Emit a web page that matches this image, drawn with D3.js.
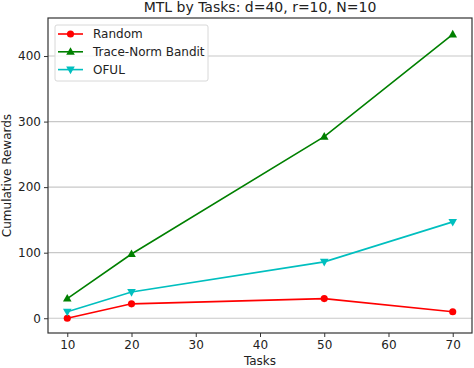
<!DOCTYPE html>
<html><head><meta charset="utf-8">
<script src="https://cdn.jsdelivr.net/npm/d3@7"></script>
<style>body{margin:0;background:#fff}svg{display:block}text{font-family:"DejaVu Sans",sans-serif;fill:#222}</style>
</head><body>
<script>
const tasks = [10, 20, 50, 70];
const randomVals = [0, 22, 30, 10];
const traceNormVals = [30, 98, 277, 433];
const ofulVals = [10, 40, 86, 147];
const xTicks = [10, 20, 30, 40, 50, 60, 70];
const yTicks = [0, 100, 200, 300, 400];
const seriesNames = ["Random", "Trace-Norm Bandit", "OFUL"];
const titleText = "MTL by Tasks: d=40, r=10, N=10";

const W = 474, H = 368;
const m = {l: 48, r: 2, t: 18, b: 35};
const svg = d3.select("body").append("svg").attr("width", W).attr("height", H);
const x = d3.scaleLinear().domain([7, 73]).range([m.l, W - m.r]);
const y = d3.scaleLinear().domain([-22.5, 458]).range([H - m.b, m.t]);

// grid
svg.append("g").selectAll("line").data(yTicks).join("line")
  .attr("x1", m.l).attr("x2", W - m.r).attr("y1", d => y(d)).attr("y2", d => y(d))
  .attr("stroke", "#c8c8c8").attr("stroke-width", 1.2);

const series = [
  {name: seriesNames[0], vals: randomVals, color: "#ff0000", marker: "circle"},
  {name: seriesNames[1], vals: traceNormVals, color: "#008000", marker: "up"},
  {name: seriesNames[2], vals: ofulVals, color: "#00bfbf", marker: "down"}
];
function markerPath(type) {
  if (type === "circle") return d3.symbol(d3.symbolCircle, 40)();
  if (type === "up") return "M0,-4.6L4.3,3L-4.3,3Z";
  return "M0,4.6L4.3,-3L-4.3,-3Z";
}
const line = d3.line().x(d => x(d[0])).y(d => y(d[1]));
series.forEach(s => {
  const pts = tasks.map((t, i) => [t, s.vals[i]]);
  svg.append("path").attr("d", line(pts)).attr("fill", "none")
    .attr("stroke", s.color).attr("stroke-width", 1.6);
  svg.append("g").selectAll("path").data(pts).join("path")
    .attr("transform", d => `translate(${x(d[0])},${y(d[1])})`)
    .attr("d", markerPath(s.marker)).attr("fill", s.color);
});

// frame
svg.append("rect").attr("x", m.l).attr("y", m.t).attr("width", W - m.r - m.l).attr("height", H - m.b - m.t)
  .attr("fill", "none").attr("stroke", "#333").attr("stroke-width", 1.2);

// axes
const xa = svg.append("g").attr("transform", `translate(0,${H - m.b})`)
  .call(d3.axisBottom(x).tickValues(xTicks).tickSize(4).tickPadding(3));
const ya = svg.append("g").attr("transform", `translate(${m.l},0)`)
  .call(d3.axisLeft(y).tickValues(yTicks).tickSize(4).tickPadding(3));
[xa, ya].forEach(a => {
  a.select(".domain").remove();
  a.selectAll("line").attr("stroke", "#333");
  a.selectAll("text").style("font-size", "12px").style("font-family", "DejaVu Sans, sans-serif").attr("fill", "#222");
});

svg.append("text").attr("x", (m.l + W - m.r) / 2).attr("y", 12).attr("text-anchor", "middle")
  .style("font-size", "14px").text(titleText);
svg.append("text").attr("x", (m.l + W - m.r) / 2).attr("y", 365).attr("text-anchor", "middle")
  .style("font-size", "12px").text("Tasks");
svg.append("text").attr("transform", `translate(11,${(m.t + H - m.b) / 2}) rotate(-90)`).attr("text-anchor", "middle")
  .style("font-size", "12px").text("Cumulative Rewards");

// legend
const lg = svg.append("g");
lg.append("rect").attr("x", 55).attr("y", 25).attr("width", 153).attr("height", 56).attr("rx", 2)
  .attr("fill", "#fff").attr("fill-opacity", 0.8).attr("stroke", "#d8d8d8");
series.forEach((s, i) => {
  const yy = 34 + i * 17.8;
  lg.append("line").attr("x1", 58).attr("x2", 83).attr("y1", yy).attr("y2", yy)
    .attr("stroke", s.color).attr("stroke-width", 1.6);
  lg.append("path").attr("transform", `translate(70.5,${yy})`).attr("d", markerPath(s.marker)).attr("fill", s.color);
  lg.append("text").attr("x", 93).attr("y", yy + 4.3).style("font-size", "12px").text(s.name);
});
</script>
</body></html>
